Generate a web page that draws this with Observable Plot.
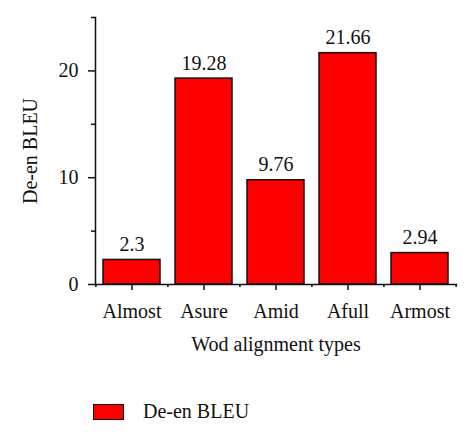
<!DOCTYPE html>
<html>
<head>
<meta charset="utf-8">
<script src="https://cdn.jsdelivr.net/npm/d3@7"></script>
<script src="https://cdn.jsdelivr.net/npm/@observablehq/plot@0.6"></script>
<style>
  html, body { margin: 0; padding: 0; background: #fff; }
  #wrap { width: 474px; height: 441px; position: relative; font-family: "Liberation Serif", "Times New Roman", serif; }
  #legend { position: absolute; left: 93px; top: 400px; display: flex; align-items: center; font-size: 20px; color: #111; }
  #legend .sw { width: 29px; height: 14px; background: #ff0000; border: 1px solid #111; margin-right: 19px; }
</style>
</head>
<body>
<div id="wrap"><div id="chart"></div><div id="legend"><span class="sw"></span><span>De-en BLEU</span></div></div>
<script>
const categories = ["Almost", "Asure", "Amid", "Afull", "Armost"];
const values = [2.3, 19.28, 9.76, 21.66, 2.94];
const valueLabels = ["2.3", "19.28", "9.76", "21.66", "2.94"];
const majorYTicks = [0, 10, 20];
const minorYTicks = [5, 15, 25];
const seriesName = "De-en BLEU";
const xTitle = "Wod alignment types";

const data = categories.map((c, i) => ({cat: c, v: values[i], lab: valueLabels[i]}));
const W = 474, H = 378, mL = 95, mR = 18, mT = 17, mB = 94;
const step = (W - mL - mR) / categories.length;
const FS = 20;

const plot = Plot.plot({
  width: W, height: H,
  marginLeft: mL, marginRight: mR, marginTop: mT, marginBottom: mB,
  style: {fontFamily: "Liberation Serif, Times New Roman, serif", fontSize: FS + "px", color: "#111", background: "#fff"},
  x: {domain: categories, paddingInner: 0.21, paddingOuter: 0.105, label: null},
  y: {domain: [0, 25], label: null},
  marks: [
    Plot.barY(data, {x: "cat", y: "v", fill: "#ff0000", stroke: "#111", strokeWidth: 1.5}),
    Plot.text(data, {x: "cat", y: "v", text: "lab", lineAnchor: "bottom", dy: -9, fontSize: FS, fill: "#111"}),
    // y axis
    Plot.axisY(majorYTicks, {tickSize: 7, tickPadding: 10, tickFormat: d => String(d), stroke: "#111", strokeWidth: 1.5, fontSize: FS, label: null}),
    Plot.axisY(minorYTicks, {tickSize: 4, text: null, stroke: "#111", strokeWidth: 1.5, label: null}),
    Plot.frame({anchor: "left", stroke: "#111", strokeWidth: 1.5}),
    // x axis
    Plot.axisX({tickSize: 6, tickPadding: 13, stroke: "#111", strokeWidth: 1.5, fontSize: FS, label: null}),
    Plot.axisX(categories, {tickSize: 3, text: null, dx: -step / 2, stroke: "#111", strokeWidth: 1.5, label: null}),
    Plot.axisX(categories.slice(-1), {tickSize: 3, text: null, dx: step / 2, stroke: "#111", strokeWidth: 1.5, label: null}),
    Plot.frame({anchor: "bottom", stroke: "#111", strokeWidth: 1.5}),
    // titles
    Plot.text([xTitle], {frameAnchor: "bottom", dy: 66, fontSize: FS, fill: "#111"}),
    Plot.text([seriesName], {frameAnchor: "left", textAnchor: "middle", dx: -65, rotate: -90, fontSize: FS, fill: "#111"})
  ]
});
document.getElementById("chart").appendChild(plot);
</script>
</body>
</html>
